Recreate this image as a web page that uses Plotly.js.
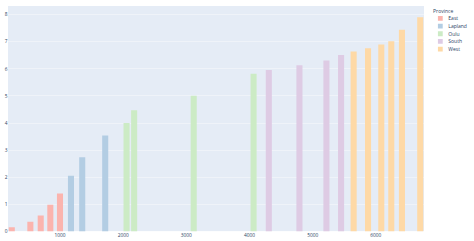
<!DOCTYPE html>
<html>
<head>
<meta charset="utf-8">
<script src="https://cdn.plot.ly/plotly-3.0.1.min.js"></script>
<style>
html,body{margin:0;padding:0;background:#fff;overflow:hidden;}
#wrap{width:474px;height:241px;overflow:hidden;}
#plot{width:1185px;height:602px;transform:scale(0.4);transform-origin:0 0;}
</style>
</head>
<body>
<div id="wrap"><div id="plot"></div></div>
<script>
const provinces = ["East", "Lapland", "Oulu", "South", "West"];
const colors = ["#FBB4AE", "#B3CDE3", "#CCEBC5", "#DECBE4", "#FED9A6"];

const eastX = [237, 531, 695, 847, 1000];
const eastY = [0.16, 0.36, 0.59, 0.99, 1.40];
const laplandX = [1174, 1352, 1716];
const laplandY = [2.06, 2.74, 3.54];
const ouluX = [2054, 2174, 3117, 4065];
const ouluY = [4.00, 4.47, 5.01, 5.82];
const southX = [4306, 4791, 5218, 5450];
const southY = [5.96, 6.13, 6.31, 6.51];
const westX = [5649, 5877, 6087, 6245, 6414, 6703];
const westY = [6.64, 6.76, 6.90, 7.02, 7.44, 7.90];

const xs = [eastX, laplandX, ouluX, southX, westX];
const ys = [eastY, laplandY, ouluY, southY, westY];

const data = provinces.map((p, i) => ({
  type: "bar",
  name: p,
  legendgroup: p,
  x: xs[i],
  y: ys[i],
  marker: {color: colors[i]},
  showlegend: true
}));

const layout = {
  width: 1185,
  height: 602,
  margin: {l: 20, r: 125, t: 15, b: 23, pad: 0, autoexpand: false},
  paper_bgcolor: "#ffffff",
  plot_bgcolor: "#E5ECF6",
  font: {family: "Open Sans, Verdana, Arial, sans-serif", size: 12, color: "#2a3f5f"},
  barmode: "relative",
  xaxis: {showgrid: false, automargin: false, zeroline: false, ticks: "", tickfont: {size: 12}},
  yaxis: {gridcolor: "white", zerolinecolor: "white", zerolinewidth: 2, automargin: false, ticks: "", tickfont: {size: 12}},
  legend: {title: {text: "Province", font: {size: 12.5}}, font: {size: 12.5}, tracegroupgap: 0, x: 1.02, xanchor: "left", y: 1, yanchor: "top"},
  showlegend: true
};

Plotly.newPlot("plot", data, layout, {displayModeBar: false, staticPlot: true});
</script>
</body>
</html>
